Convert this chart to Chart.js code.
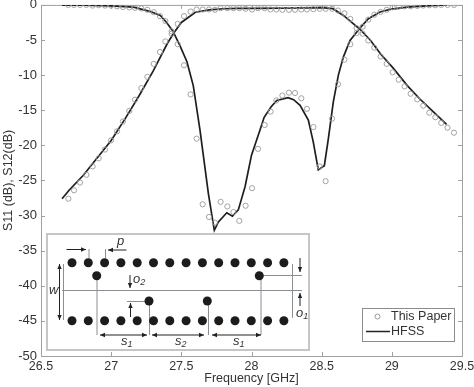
<!DOCTYPE html>
<html>
<head>
<meta charset="utf-8">
<script src="https://cdn.jsdelivr.net/npm/chart.js@4/dist/chart.umd.js"></script>
<style>
html, body { margin: 0; padding: 0; background: #fff; }
#box { width: 474px; height: 387px; }
canvas { filter: blur(0.35px); }
</style>
</head>
<body>
<div id="box"><canvas id="cvs" width="474" height="387"></canvas></div>
<script>
var xTicks = [26.5, 27, 27.5, 28, 28.5, 29, 29.5]
var yTicks = [0, -5, -10, -15, -20, -25, -30, -35, -40, -45, -50]
var legendLabels = ["This Paper", "HFSS"]

// measured points, same frequencies for both curves
var paperFreq = [26.695, 26.735, 26.778, 26.823, 26.868, 26.911, 26.956, 26.999, 27.042, 27.084, 27.129, 27.17, 27.215, 27.258, 27.303, 27.348, 27.386, 27.431, 27.474, 27.519, 27.566, 27.609, 27.652, 27.697, 27.74, 27.78, 27.828, 27.871, 27.913, 27.958, 28.004, 28.046, 28.094, 28.136, 28.177, 28.22, 28.267, 28.31, 28.355, 28.395, 28.441, 28.486, 28.528, 28.574, 28.616, 28.662, 28.704, 28.749, 28.792, 28.832, 28.875, 28.92, 28.963, 29.006, 29.049, 29.091, 29.134, 29.181, 29.224, 29.267, 29.31, 29.352, 29.397, 29.443]
var paperS11 = [0, 0, 0, 0, -0.1, -0.05, -0.1, -0.1, -0.2, -0.3, -0.35, -0.43, -0.5, -0.7, -1.04, -1.6, -2.3, -4.1, -5.6, -8.6, -12.75, -19.05, -28.4, -30.2, -31, -28.05, -28.7, -29.5, -30.75, -28.6, -26.1, -20.5, -17.1, -15.2, -13.6, -12.9, -12.5, -12.55, -13.3, -14.8, -17.4, -23, -25.1, -16.2, -11.3, -7.8, -5.6, -4, -3.1, -2.1, -1.4, -1, -0.7, -0.33, -0.24, -0.2, -0.2, -0.15, -0.1, -0.05, -0.05, 0, 0, 0]
var paperS12 = [-27.6, -26.4, -25.3, -24.2, -23, -21.85, -20.6, -19.3, -18, -16.6, -15.1, -13.5, -11.85, -10.25, -8.4, -6.7, -5.2, -3.75, -2.7, -1.6, -0.95, -0.65, -0.65, -0.65, -0.7, -0.47, -0.47, -0.47, -0.47, -0.55, -0.65, -0.47, -0.47, -0.65, -0.65, -0.7, -0.7, -0.7, -0.65, -0.65, -0.6, -0.55, -0.55, -0.55, -0.8, -1.2, -2, -3.3, -4.1, -5.07, -6.1, -7.35, -8.4, -9.6, -10.65, -11.6, -12.65, -13.45, -14.35, -15.35, -16, -16.8, -17.5, -18.2]

// simulated curves
var hfssFreqS11 = [26.65, 26.8, 27, 27.16, 27.28, 27.35, 27.395, 27.44, 27.49, 27.54, 27.585, 27.633, 27.693, 27.735, 27.764, 27.824, 27.864, 27.906, 27.954, 28, 28.06, 28.09, 28.14, 28.18, 28.26, 28.3, 28.346, 28.405, 28.44, 28.476, 28.519, 28.548, 28.583, 28.619, 28.655, 28.702, 28.769, 28.833, 28.916, 28.987, 29.11, 29.25, 29.39]
var hfssS11 = [-0.02, -0.05, -0.15, -0.33, -0.95, -1.5, -2.5, -3.75, -5.8, -8.1, -11.5, -17.85, -26.9, -32.1, -30.9, -29.6, -30.1, -29.2, -25.9, -21.4, -17.85, -16, -14.5, -13.6, -13.2, -13.5, -14.3, -16.4, -19.5, -23.5, -22.9, -19, -13.8, -10, -7.4, -5.05, -3.4, -1.96, -1, -0.64, -0.33, -0.15, 0]
var hfssFreqS12 = [26.65, 26.7, 26.8, 26.9, 27, 27.1, 27.2, 27.3, 27.4, 27.45, 27.5, 27.6, 27.7, 27.8, 27.9, 28, 28.2, 28.5, 28.58, 28.655, 28.769, 28.846, 28.92, 29.01, 29.11, 29.2, 29.3, 29.39]
var hfssS12 = [-27.6, -26.4, -24.3, -21.8, -19.3, -16.2, -12.9, -9.4, -5.5, -3.9, -2.5, -1.05, -0.7, -0.55, -0.5, -0.5, -0.47, -0.38, -0.54, -1.5, -3.4, -5, -7, -9, -11.5, -13.4, -15.3, -17]

var textColor = "#333"
var fontName = "'Liberation Sans', Arial, sans-serif"

function pts(xs, ys){
	return xs.map(function(x, i){ return {x: x, y: ys[i]} })
}

// matlab style frame, ticks pointing in on all four sides
var framePlugin = {
	id: "frame",
	beforeDatasetsDraw: function(chart){
		var c = chart.ctx, a = chart.chartArea
		c.save()
		c.strokeStyle = "#a0a0a0"
		c.lineWidth = 1
		c.strokeRect(a.left + .5, a.top + .5, a.width, a.height)
		xTicks.forEach(function(v){
			var x = Math.round(chart.scales.x.getPixelForValue(v)) + .5
			c.beginPath()
			c.moveTo(x, a.bottom); c.lineTo(x, a.bottom - 4)
			c.moveTo(x, a.top); c.lineTo(x, a.top + 4)
			c.stroke()
		})
		yTicks.forEach(function(v){
			var y = Math.round(chart.scales.y.getPixelForValue(v)) + .5
			c.beginPath()
			c.moveTo(a.left, y); c.lineTo(a.left + 4, y)
			c.moveTo(a.right, y); c.lineTo(a.right - 4, y)
			c.stroke()
		})
		c.restore()
	}
}

function line(c, x1, y1, x2, y2){
	c.beginPath(); c.moveTo(x1, y1); c.lineTo(x2, y2); c.stroke()
}
function arrowHead(c, x, y, dx, dy){
	c.beginPath()
	c.moveTo(x, y)
	c.lineTo(x - dx * 5 - dy * 2.2, y - dy * 5 - dx * 2.2)
	c.lineTo(x - dx * 5 + dy * 2.2, y - dy * 5 + dx * 2.2)
	c.closePath()
	c.fill()
}
function arrow(c, x1, y1, x2, y2, both){
	line(c, x1, y1, x2, y2)
	var dx = Math.sign(x2 - x1), dy = Math.sign(y2 - y1)
	arrowHead(c, x2, y2, dx, dy)
	if(both) arrowHead(c, x1, y1, -dx, -dy)
}
function subLabel(c, s, sub, x, y){
	c.font = "italic 13px " + fontName
	c.textAlign = "left"
	c.textBaseline = "middle"
	c.fillText(s, x, y)
	if(sub){
		var w = c.measureText(s).width
		c.font = "italic 9px " + fontName
		c.fillText(sub, x + w, y + 3)
	}
}

// schematic of the filter, pasted over the plot like in the paper
var insetPlugin = {
	id: "inset",
	afterDatasetsDraw: function(chart){
		var c = chart.ctx
		c.save()
		c.fillStyle = "#fff"
		c.fillRect(47, 234, 262, 116)
		c.strokeStyle = "#c6c6c6"
		c.lineWidth = 2
		c.strokeRect(47, 234, 262, 116)

		c.strokeStyle = "#8a8f94"
		c.lineWidth = 1
		line(c, 62, 290.5, 302, 290.5)
		line(c, 97, 276, 97, 335)
		line(c, 149.5, 301, 149.5, 335)
		line(c, 208.5, 301, 208.5, 335)
		line(c, 261, 276, 261, 335)
		line(c, 63.5, 264, 63.5, 320)
		line(c, 292.5, 264, 292.5, 318)
		line(c, 127, 301.5, 146, 301.5)
		line(c, 263, 275.5, 302, 275.5)
		line(c, 89, 249, 89, 258)
		line(c, 105.5, 249, 105.5, 258)

		c.fillStyle = "#1c1c1c"
		for(var i = 0; i < 14; i++){
			var x = 72 + i * 16.3
			;[262.7, 320.7].forEach(function(y){
				c.beginPath(); c.arc(x, y, 4.5, 0, 2 * Math.PI); c.fill()
			})
		}
		;[[96.7, 275.7], [259.3, 275.7], [149, 301], [207.3, 301]].forEach(function(p){
			c.beginPath(); c.arc(p[0], p[1], 4.5, 0, 2 * Math.PI); c.fill()
		})

		c.strokeStyle = "#222"
		c.fillStyle = "#222"
		c.lineWidth = 1
		arrow(c, 66.5, 249.5, 86, 249.5)
		arrow(c, 126.5, 250, 108, 250)
		arrow(c, 59.5, 264, 59.5, 320, true)
		arrow(c, 100, 335, 147, 335, true)
		arrow(c, 152, 335, 204, 335, true)
		arrow(c, 212, 335, 261, 335, true)
		arrow(c, 130, 275, 130, 288)
		arrow(c, 130.5, 317, 130.5, 303)
		arrow(c, 300, 258, 300, 272)
		arrow(c, 300, 306, 300, 293)

		c.fillStyle = "#333"
		subLabel(c, "p", "", 117, 241)
		subLabel(c, "w", "", 49, 290)
		subLabel(c, "o", "2", 133, 279)
		subLabel(c, "o", "1", 296, 313)
		subLabel(c, "s", "1", 121, 341.5)
		subLabel(c, "s", "2", 175, 341.5)
		subLabel(c, "s", "1", 233, 341.5)
		c.restore()
	},
	afterDraw: function(chart){
		// legend box, bottom right inside the axes
		var c = chart.ctx
		c.save()
		c.fillStyle = "#fff"
		c.fillRect(362, 308, 92, 33)
		c.strokeStyle = "#8c8c8c"
		c.lineWidth = 1
		c.strokeRect(362.5, 308.5, 92, 33)
		c.strokeStyle = "#999"
		c.beginPath(); c.arc(377.5, 316.5, 2.5, 0, 2 * Math.PI); c.stroke()
		c.strokeStyle = "#222"
		c.lineWidth = 1.5
		line(c, 366, 331.5, 390, 331.5)
		c.fillStyle = textColor
		c.font = "12.5px " + fontName
		c.textAlign = "left"
		c.textBaseline = "middle"
		c.fillText(legendLabels[0], 391, 316.5)
		c.fillText(legendLabels[1], 391, 332)
		c.restore()
	}
}

var paperStyle = {
	showLine: false,
	borderColor: "#9a9a9a",
	backgroundColor: "rgba(0,0,0,0)",
	borderWidth: 0.9,
	pointRadius: 2.6,
	pointBorderWidth: 0.9,
	pointBorderColor: "#9a9a9a",
	pointBackgroundColor: "rgba(0,0,0,0)"
}
var hfssStyle = {
	showLine: true,
	borderColor: "#1e1e1e",
	borderWidth: 1.7,
	pointRadius: 0,
	tension: 0
}

new Chart(document.getElementById("cvs").getContext("2d"), {
	type: "scatter",
	data: {
		datasets: [
			Object.assign({label: legendLabels[0], data: pts(paperFreq, paperS11)}, paperStyle),
			Object.assign({label: legendLabels[0], data: pts(paperFreq, paperS12)}, paperStyle),
			Object.assign({label: legendLabels[1], data: pts(hfssFreqS11, hfssS11)}, hfssStyle),
			Object.assign({label: legendLabels[1], data: pts(hfssFreqS12, hfssS12)}, hfssStyle)
		]
	},
	options: {
		responsive: false,
		animation: false,
		layout: {padding: {left: 0, top: 4, right: 12, bottom: 0}},
		plugins: {legend: {display: false}, tooltip: {enabled: false}},
		scales: {
			x: {
				type: "linear",
				min: 26.5,
				max: 29.5,
				afterBuildTicks: function(s){ s.ticks = xTicks.map(function(v){ return {value: v} }) },
				afterFit: function(s){ s.height = 31; s.paddingLeft = 0; s.paddingRight = 0 },
				grid: {display: false, drawTicks: false},
				border: {display: false},
				ticks: {
					color: textColor, padding: 3, maxRotation: 0, autoSkip: false,
					font: {family: fontName, size: 12.5},
					callback: function(v){ return String(v) }
				},
				title: {
					display: true, text: "Frequency [GHz]", color: textColor,
					font: {family: fontName, size: 12.5},
					padding: {top: 0, bottom: 1}
				}
			},
			y: {
				type: "linear",
				min: -50,
				max: 0,
				afterBuildTicks: function(s){ s.ticks = yTicks.map(function(v){ return {value: v} }) },
				afterFit: function(s){ s.width = 41; s.paddingTop = 0; s.paddingBottom = 0 },
				grid: {display: false, drawTicks: false},
				border: {display: false},
				ticks: {
					color: textColor, padding: 4, autoSkip: false,
					font: {family: fontName, size: 13},
					callback: function(v){ return String(v) }
				},
				title: {
					display: true, text: "S11 (dB), S12(dB)", color: textColor,
					font: {family: fontName, size: 12.5},
					padding: {top: 1, bottom: 0}
				}
			}
		}
	},
	plugins: [framePlugin, insetPlugin]
})
</script>
</body>
</html>
